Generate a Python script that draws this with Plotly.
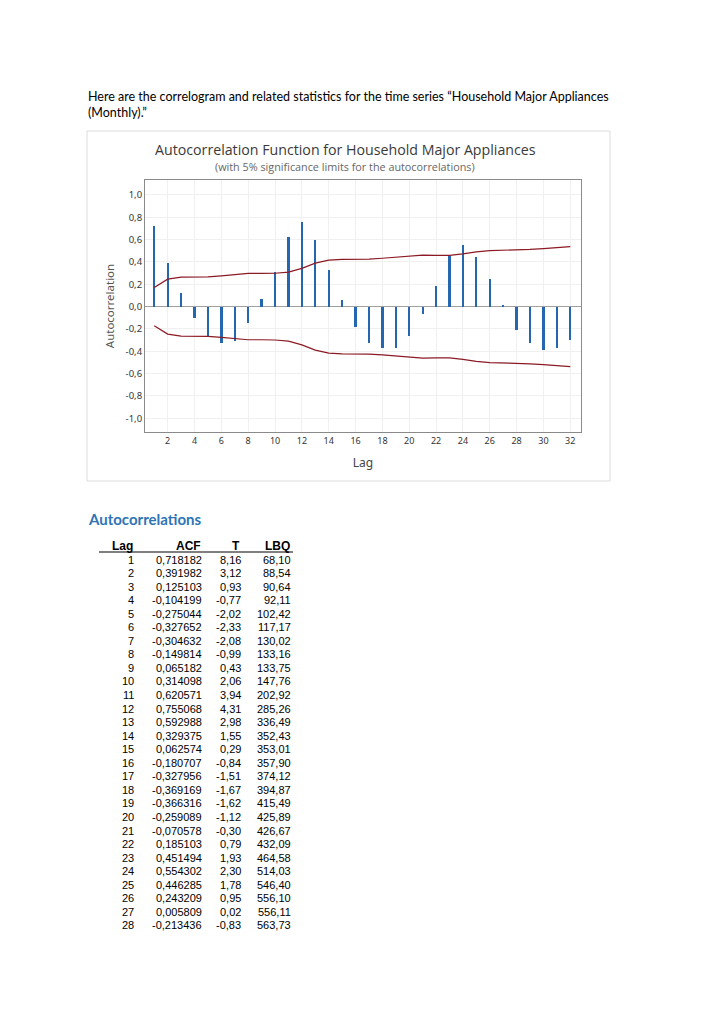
import plotly.graph_objects as go

# ---- data ----
lags = list(range(1, 33))
acf = [0.718182, 0.391982, 0.125103, -0.104199, -0.275044, -0.327652, -0.304632, -0.149814,
       0.065182, 0.314098, 0.620571, 0.755068, 0.592988, 0.329375, 0.062574, -0.180707,
       -0.327956, -0.369169, -0.366316, -0.259089, -0.070578, 0.185103, 0.451494, 0.554302,
       0.446285, 0.243209, 0.005809, -0.213436, -0.33, -0.39, -0.37, -0.30]
limit = [0.172, 0.246, 0.264, 0.265, 0.267, 0.276, 0.287, 0.297, 0.297, 0.299, 0.309, 0.343,
         0.390, 0.417, 0.423, 0.422, 0.426, 0.433, 0.443, 0.453, 0.461, 0.459, 0.459, 0.472,
         0.491, 0.502, 0.506, 0.504, 0.512, 0.520, 0.528, 0.538]
ytick_vals = [1.0, 0.8, 0.6, 0.4, 0.2, 0.0, -0.2, -0.4, -0.6, -0.8, -1.0]
ytick_text = ["1,0", "0,8", "0,6", "0,4", "0,2", "0,0", "-0,2", "-0,4", "-0,6", "-0,8", "-1,0"]
xtick_vals = list(range(2, 33, 2))

tbl_lag = [str(i) for i in range(1, 29)]
tbl_acf = ["0,718182", "0,391982", "0,125103", "-0,104199", "-0,275044", "-0,327652", "-0,304632",
           "-0,149814", "0,065182", "0,314098", "0,620571", "0,755068", "0,592988", "0,329375",
           "0,062574", "-0,180707", "-0,327956", "-0,369169", "-0,366316", "-0,259089", "-0,070578",
           "0,185103", "0,451494", "0,554302", "0,446285", "0,243209", "0,005809", "-0,213436"]
tbl_t = ["8,16", "3,12", "0,93", "-0,77", "-2,02", "-2,33", "-2,08", "-0,99", "0,43", "2,06",
         "3,94", "4,31", "2,98", "1,55", "0,29", "-0,84", "-1,51", "-1,67", "-1,62", "-1,12",
         "-0,30", "0,79", "1,93", "2,30", "1,78", "0,95", "0,02", "-0,83"]
tbl_lbq = ["68,10", "88,54", "90,64", "92,11", "102,42", "117,17", "130,02", "133,16", "133,75",
           "147,76", "202,92", "285,26", "336,49", "352,43", "353,01", "357,90", "374,12", "394,87",
           "415,49", "425,89", "426,67", "432,09", "464,58", "514,03", "546,40", "556,10", "556,11",
           "563,73"]
headers = ["Lag", "ACF", "T", "LBQ"]

# page geometry (body has an 8px margin)
OFF = 8
W, H = 724 - 2 * OFF, 1024 - 2 * OFF
def px(x): return (x - OFF) / W
def py(y): return 1 - (y - OFF) / H

fig = go.Figure()
fig.add_trace(go.Bar(x=lags, y=acf, width=0.17, marker=dict(color="#2466b0", line=dict(width=0)),
                     showlegend=False))
fig.add_trace(go.Scatter(x=lags, y=limit, mode="lines", line=dict(color="#8b1a24", width=1.2),
                         showlegend=False))
fig.add_trace(go.Scatter(x=lags, y=[-v for v in limit], mode="lines",
                         line=dict(color="#8b1a24", width=1.2), showlegend=False))

annotations = [
    dict(text="Here are the correlogram and related statistics for the time series “Household Major Appliances<br>(Monthly).”",
         xref="paper", yref="paper", x=px(86), y=py(87), xanchor="left", yanchor="top", align="left",
         showarrow=False, font=dict(family="Lato", size=12.5, color="black")),
    dict(text="Autocorrelation Function for Household Major Appliances",
         xref="paper", yref="paper", x=px(345), y=py(150), xanchor="center", yanchor="middle",
         showarrow=False, font=dict(family="Open Sans", size=14.2, color="#3a3a3a")),
    dict(text="(with 5% significance limits for the autocorrelations)",
         xref="paper", yref="paper", x=px(345), y=py(166), xanchor="center", yanchor="middle",
         showarrow=False, font=dict(family="Open Sans", size=10.8, color="#666")),
    dict(text="<b>Autocorrelations</b>",
         xref="paper", yref="paper", x=px(86), y=py(519), xanchor="left", yanchor="middle",
         showarrow=False, font=dict(family="Lato", size=15, color="#2e74b5")),
]

# table built as text from the lists
col_right = [135, 203, 242, 292]
for h, xr in zip(headers, col_right):
    annotations.append(dict(text="<b>%s</b>" % h, xref="paper", yref="paper", x=px(xr), y=py(545.5),
                            xanchor="right", yanchor="middle", showarrow=False,
                            font=dict(family="Liberation Sans", size=12, color="black")))
row0, step = 559.5, 13.55
for i, row in enumerate(zip(tbl_lag, tbl_acf, tbl_t, tbl_lbq)):
    for val, xr in zip(row, col_right):
        annotations.append(dict(text=val, xref="paper", yref="paper", x=px(xr + 1), y=py(row0 + i * step),
                                xanchor="right", yanchor="middle", showarrow=False,
                                font=dict(family="Liberation Sans", size=11, color="black")))

fig.update_layout(
    width=W, height=H, autosize=False,
    margin=dict(l=0, r=0, t=0, b=0),
    paper_bgcolor="white", plot_bgcolor="white",
    bargap=0,
    xaxis=dict(domain=[px(145), px(581)], range=[0.31, 32.8], tickvals=xtick_vals,
               showgrid=True, gridcolor="#f0f0f0", zeroline=False,
               showline=True, linecolor="#8a8a8a", linewidth=1, mirror=True, ticks="",
               tickfont=dict(family="Noto Sans", size=9, color="#333"),
               title=dict(text="Lag", font=dict(family="Noto Sans", size=12, color="#444"), standoff=12)),
    yaxis=dict(domain=[py(432), py(180)], range=[-1.123, 1.134], tickvals=ytick_vals, ticktext=ytick_text,
               showgrid=True, gridcolor="#f0f0f0", zeroline=True, zerolinecolor="#a0a0a0", zerolinewidth=1,
               showline=True, linecolor="#8a8a8a", linewidth=1, mirror=True, ticks="",
               tickfont=dict(family="Noto Sans", size=9.5, color="#333"),
               title=dict(text="Autocorrelation", font=dict(family="Noto Sans", size=11.5, color="#555"), standoff=8)),
    shapes=[
        dict(type="rect", xref="paper", yref="paper", x0=px(87), x1=px(610), y0=py(481), y1=py(131),
             line=dict(color="#dcdcdc", width=1), layer="below"),
        dict(type="line", xref="paper", yref="paper", x0=px(99), x1=px(293), y0=py(552), y1=py(552),
             line=dict(color="black", width=1)),
    ],
    annotations=annotations,
)

fig.write_html("out.html")
